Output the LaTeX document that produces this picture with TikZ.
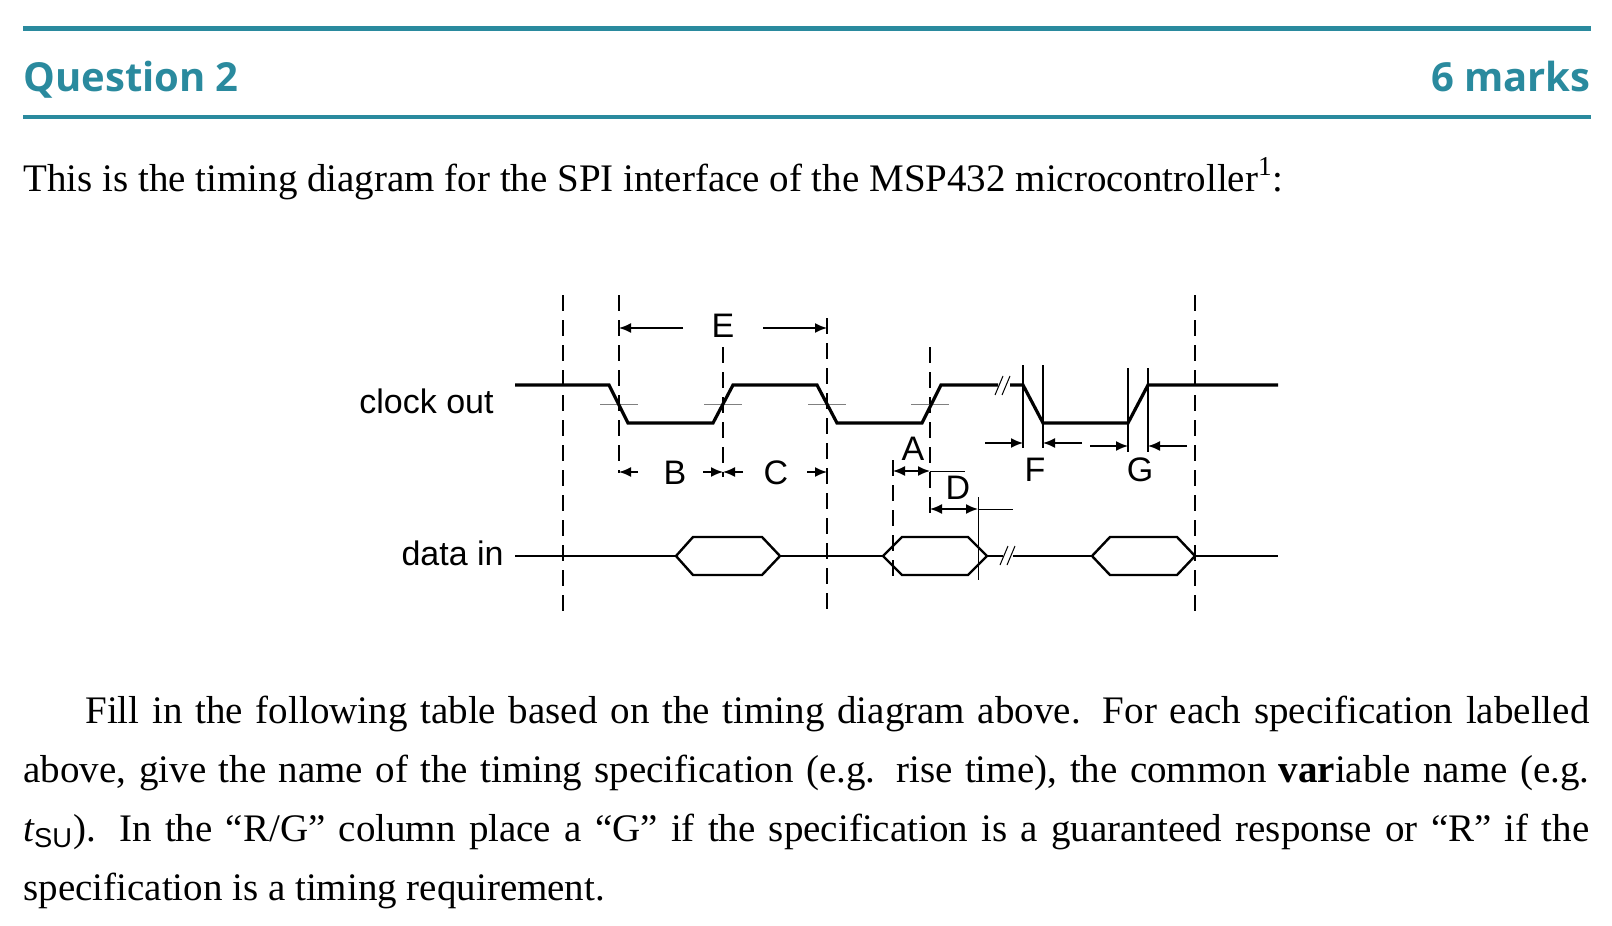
\documentclass[tikz,border=0pt]{standalone}
\usepackage{fontspec}
\setmainfont{Liberation Serif}
\setsansfont{Liberation Sans}
\newfontfamily\headfont{Open Sans}
\usetikzlibrary{arrows.meta}
\definecolor{teal1}{HTML}{2A8A9E}
\tikzset{
 sig/.style={line width=1.6pt},
 dat/.style={line width=1.2pt},
 thin/.style={line width=0.5pt},
 dsh/.style={line width=0.6pt, dash pattern=on 8pt off 4.5pt},
 tick/.style={line width=0.4pt, gray},
 arr/.style={line width=0.8pt,-{Latex[length=6pt,width=5pt]}},
 darr/.style={line width=0.8pt,{Latex[length=6pt,width=5pt]}-{Latex[length=6pt,width=5pt]}},
 lab/.style={font=\sffamily\fontsize{17}{17}\selectfont, inner sep=0pt},
 body/.style={font=\fontsize{19.5}{22}\selectfont, inner sep=0pt, anchor=base west},
}
\begin{document}
\begin{tikzpicture}[x=0.5pt,y=-0.5pt]
\useasboundingbox (0,0) rectangle (1612,926);
% header
\draw[teal1, line width=2.5pt] (23,28) -- (1591,28);
\draw[teal1, line width=1.6pt] (23,117) -- (1591,117);
\node[anchor=base west, inner sep=0pt, text=teal1, font=\headfont\bfseries\fontsize{20}{20}\selectfont] (q) at (23,91) {Question 2};
\node[anchor=base east, inner sep=0pt, text=teal1, font=\headfont\bfseries\fontsize{20}{20}\selectfont] (m) at (1591,91) {6 marks};
\node[body] (intro) at (23,191) {This is the timing diagram for the SPI interface of the MSP432 microcontroller\textsuperscript{1}:};
% paragraph
\node[body] (p1) at (85,723) {\makebox[752pt][s]{Fill in the following table based on the timing diagram above. For each specification labelled}};
\node[body] (p2) at (23,782) {\makebox[783pt][s]{above, give the name of the timing specification (e.g. rise time), the common \textbf{var}iable name (e.g.}};
\node[body] (p3) at (23,841) {\makebox[783pt][s]{{\itshape t}\textsubscript{\sffamily SU}). In the “R/G” column place a “G” if the specification is a guaranteed response or “R” if the}};
\node[body] (p4) at (23,900) {specification is a timing requirement.};
% labels
\node[lab, anchor=east] (clk) at (494,401) {clock out};
\node[lab, anchor=east] (din) at (504,553) {data in};
% dashed verticals
\draw[dsh] (563,295) -- (563,612);
\draw[dsh] (619,295) -- (619,473);
\draw[dsh] (723,347) -- (723,477);
\draw[dsh] (827,318) -- (827,612);
\draw[dsh] (930,347) -- (930,520);
\draw[dsh] (893,460) -- (893,578);
\draw[dsh] (1195,295) -- (1195,612);
\draw[thin] (978,497) -- (978,580);
% ticks
\foreach \x in {619,723,827,930} \draw[tick] (\x-19,404) -- (\x+19,404);
% clock
\draw[sig] (515,385) -- (609,385) -- (628,423) -- (713,423) -- (733,385) -- (817,385) -- (837,423) -- (922,423) -- (941,385) -- (998,385);
\draw[thin] (995,395) -- (1003,376) (1002,395) -- (1010,376);
\draw[sig] (1010,385) -- (1023,385) -- (1043,423) -- (1128,423) -- (1148,385) -- (1278,385);
% data
\draw[dat] (515,556) -- (676,556);
\draw[dat] (676,556) -- (693,537) -- (762,537) -- (780,556) -- (762,575) -- (693,575) -- cycle;
\draw[dat] (780,556) -- (883,556);
\draw[dat] (883,556) -- (902,537) -- (968,537) -- (987,556) -- (968,575) -- (902,575) -- cycle;
\draw[dat] (987,556) -- (1003,556);
\draw[thin] (1000,565) -- (1008,546) (1007,565) -- (1015,546);
\draw[dat] (1013,556) -- (1092,556);
\draw[dat] (1092,556) -- (1110,537) -- (1177,537) -- (1195,556) -- (1177,575) -- (1110,575) -- cycle;
\draw[dat] (1195,556) -- (1278,556);
% E
\node[lab] (E) at (723,326) {E};
\draw[arr] (683,328) -- (619,328);
\draw[arr] (763,328) -- (827,328);
% B C
\node[lab] (B) at (675,473) {B};
\node[lab] (C) at (776,473) {C};
\draw[arr] (638,472) -- (619,472);
\draw[arr] (703,472) -- (723,472);
\draw[arr] (743,472) -- (723,472);
\draw[arr] (807,472) -- (827,472);
% F G
\draw[line width=1.2pt] (1023,365) -- (1023,448) (1043,365) -- (1043,448);
\draw[line width=1.2pt] (1128,368) -- (1128,452) (1148,368) -- (1148,452);
\draw[arr] (985,443) -- (1023,443);
\draw[arr] (1082,443) -- (1043,443);
\draw[arr] (1090,446) -- (1128,446);
\draw[arr] (1187,446) -- (1148,446);
\node[lab] (F) at (1035,470) {F};
\node[lab] (G) at (1140,470) {G};
% A D
\node[lab] (A) at (913,449) {A};
\draw[darr] (893,471) -- (930,471);
\draw[thin] (930,471) -- (965,471);
\node[lab] (D) at (958,488) {D};
\draw[darr] (930,509) -- (978,509);
\draw[thin] (978,509) -- (1013,509);
\end{tikzpicture}
\end{document}
